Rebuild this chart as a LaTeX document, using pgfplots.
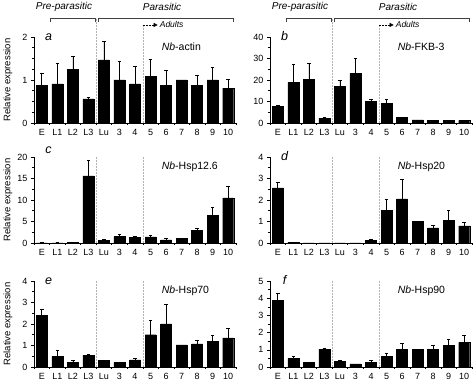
\documentclass[border=0pt]{standalone}
\usepackage{fontspec}
\setmainfont{Liberation Sans}
\usepackage{pgfplots}
\pgfplotsset{compat=1.18}
\usepackage{pgfplotstable}
\usetikzlibrary{arrows.meta}

\pgfplotstableread{
x y e
0 0.88 0.27
1 0.91 0.47
2 1.24 0.31
3 0.56 0.03
4 1.47 0.43
5 1.00 0.44
6 0.91 0.42
7 1.09 0.39
8 0.88 0.34
9 1.00 0
10 0.88 0.22
11 1.00 0.29
12 0.81 0.21
}\dataA
\pgfplotstableread{
x y e
0 7.6 0.5
1 18.9 8.4
2 20.2 7.7
3 2.3 0.3
4 16.9 2.9
5 23.1 7.0
6 10.1 1.1
7 9.1 1.9
8 2.5 0.3
9 1.4 0
10 1.3 0
11 1.2 0
12 1.2 0
}\dataB
\pgfplotstableread{
x y e
0 0.05 0
1 0.05 0
2 0.15 0
3 15.6 3.7
4 0.55 0.3
5 1.5 0.6
6 1.3 0.2
7 1.4 0.3
8 0.75 0.35
9 1.1 0
10 3.0 0.4
11 6.35 1.85
12 10.5 2.7
}\dataC
\pgfplotstableread{
x y e
0 2.56 0.28
1 0.03 0
2 0 0
3 0 0
4 0 0
5 0 0
6 0.12 0.03
7 1.53 0.5
8 2.05 0.92
9 1.0 0
10 0.7 0.1
11 1.06 0.44
12 0.8 0.15
}\dataD
\pgfplotstableread{
x y e
0 2.4 0.3
1 0.49 0.29
2 0.2 0.11
3 0.55 0.03
4 0.3 0.03
5 0.2 0.04
6 0.33 0.06
7 1.5 0.68
8 2.0 0.93
9 1.03 0
10 1.07 0.15
11 1.2 0.27
12 1.36 0.46
}\dataE
\pgfplotstableread{
x y e
0 3.88 0.42
1 0.5 0.1
2 0.25 0.05
3 1.02 0.08
4 0.33 0.04
5 0.18 0
6 0.27 0.1
7 0.6 0.18
8 1.02 0.33
9 1.04 0
10 1.04 0.21
11 1.25 0.38
12 1.43 0.43
}\dataF

\pgfplotsset{
  panel/.style={
    scale only axis, width=202pt, height=86pt,
    xmin=-0.5, xmax=12.5, ymin=0,
    axis x line*=bottom, axis y line*=left,
    axis line style={black, line width=0.6pt},
    xtick={0,...,12},
    xticklabels={E,L1,L2,L3,Lu,3,4,5,6,7,8,9,10},
    major x tick style={draw=none},
    minor xtick={-0.5,0.5,...,12.5},
    tick align=outside,
    major tick length=3pt, minor tick length=2pt,
    tick style={black, line width=0.5pt},
    ticklabel style={font=\fontsize{9}{10}\selectfont},
    /pgf/number format/assume math mode=true,
    clip=false,
    ylabel style={font=\fontsize{9.5}{11}\selectfont, at={(axis description cs:-0.129,0.5)}, anchor=center},
  },
  bars/.style={ybar, bar width=11pt, fill=black, draw=black,
    error bars/.cd, y dir=plus, y explicit,
    error bar style={black, line width=0.6pt},
    error mark options={black, rotate=90, mark size=1.8pt, line width=0.6pt}},
}
\tikzset{
  vline/.style={gray!60, densely dotted, line width=0.5pt},
  bracket/.style={black!75, line width=0.6pt},
}
\newcommand{\panellabel}[2]{\node[anchor=base, font=\fontsize{12.5}{14}\selectfont\itshape] at (rel axis cs:0.072,#2) {#1};}
\newcommand{\genename}[1]{\node[anchor=west, font=\fontsize{10.5}{12}\selectfont] at (rel axis cs:0.615,0.89) {#1};}
\newcommand{\toprowann}{%
  \draw[vline] (rel axis cs:0.3077,0) -- (rel axis cs:0.3077,1.221);
  \draw[vline] (rel axis cs:0.5385,0) -- (rel axis cs:0.5385,1.14);
  \draw[bracket] (rel axis cs:0.0792,1.174) -- (rel axis cs:0.0792,1.221) -- (rel axis cs:0.302,1.221) -- (rel axis cs:0.302,1.174);
  \draw[bracket] (rel axis cs:0.317,1.174) -- (rel axis cs:0.317,1.221) -- (rel axis cs:0.985,1.221) -- (rel axis cs:0.985,1.174);
  \node[font=\fontsize{10}{12}\selectfont\itshape] at (rel axis cs:0.1485,1.349) {Pre-parasitic};
  \node[font=\fontsize{10}{12}\selectfont\itshape] at (rel axis cs:0.634,1.349) {Parasitic};
  \draw[black, densely dotted, line width=0.5pt, -{Triangle[length=4pt,width=4pt]}] (rel axis cs:0.5385,1.14) -- (rel axis cs:0.612,1.14);
  \node[anchor=west, inner sep=0pt, font=\fontsize{8.5}{10}\selectfont\itshape] at (rel axis cs:0.622,1.14) {Adults};
}
\newcommand{\lowrowann}{%
  \draw[vline] (rel axis cs:0.3077,0) -- (rel axis cs:0.3077,1);
  \draw[vline] (rel axis cs:0.5385,0) -- (rel axis cs:0.5385,1);
}

\begin{document}
\begin{tikzpicture}
\useasboundingbox (0,0) rectangle (474pt,385pt);
% a
\begin{axis}[panel, at={(34pt,262pt)}, anchor=south west, ymax=2, ytick={0,1,2}, minor y tick num=3, ylabel={Relative expression}]
\toprowann
\addplot[bars] table[x=x,y=y,y error=e]{\dataA};
\panellabel{a}{0.96}
\genename{\textit{Nb}-actin}
\end{axis}
% b
\begin{axis}[panel, at={(270pt,262pt)}, anchor=south west, ymax=40, ytick={0,10,...,40}, minor y tick num=1]
\toprowann
\addplot[bars] table[x=x,y=y,y error=e]{\dataB};
\panellabel{b}{0.96}
\genename{\textit{Nb}-FKB-3}
\end{axis}
% c
\begin{axis}[panel, at={(34pt,142pt)}, anchor=south west, ymax=20, ytick={0,5,...,20}, minor y tick num=1, ylabel={Relative expression}]
\lowrowann
\addplot[bars] table[x=x,y=y,y error=e]{\dataC};
\panellabel{c}{1.04}
\genename{\textit{Nb}-Hsp12.6}
\end{axis}
% d
\begin{axis}[panel, at={(270pt,142pt)}, anchor=south west, ymax=4, ytick={0,...,4}, minor y tick num=1]
\lowrowann
\addplot[bars] table[x=x,y=y,y error=e]{\dataD};
\panellabel{d}{0.96}
\genename{\textit{Nb}-Hsp20}
\end{axis}
% e
\begin{axis}[panel, at={(34pt,18pt)}, anchor=south west, ymax=4, ytick={0,...,4}, minor y tick num=1, ylabel={Relative expression}]
\lowrowann
\addplot[bars] table[x=x,y=y,y error=e]{\dataE};
\panellabel{e}{0.96}
\genename{\textit{Nb}-Hsp70}
\end{axis}
% f
\begin{axis}[panel, at={(270pt,18pt)}, anchor=south west, ymax=5, ytick={0,...,5}, minor y tick num=1]
\lowrowann
\addplot[bars] table[x=x,y=y,y error=e]{\dataF};
\panellabel{f}{0.96}
\genename{\textit{Nb}-Hsp90}
\end{axis}
\end{tikzpicture}
\end{document}
